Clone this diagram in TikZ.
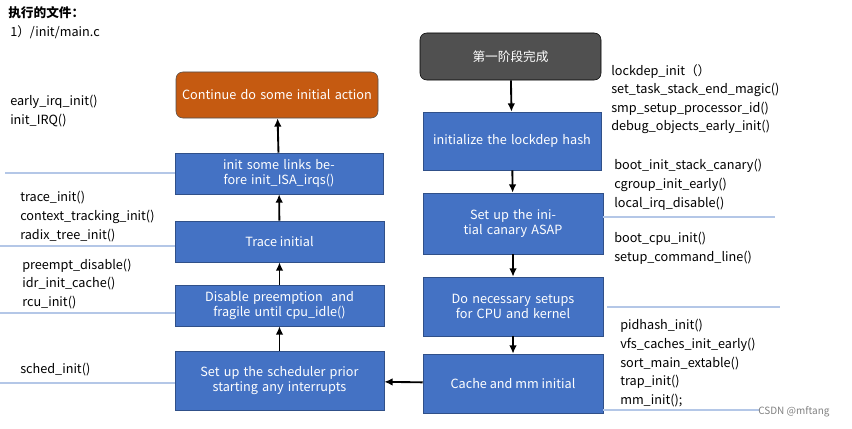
\documentclass[tikz,border=0pt]{standalone}
\usepackage{fontspec}
\setmainfont{Noto Sans CJK SC}
\usetikzlibrary{arrows.meta}
\definecolor{boxblue}{HTML}{4472C4}
\definecolor{boxorange}{HTML}{C55A11}
\definecolor{boxgray}{HTML}{505050}
\definecolor{sepblue}{HTML}{B4C7E7}

\begin{document}
\begin{tikzpicture}[x=0.75pt, y=-0.75pt, font=\fontsize{9.5}{11}\selectfont,
	stage/.style={draw=boxblue!70!black, fill=boxblue, text=white, align=center, inner sep=0pt},
	fn/.style={anchor=west, inner sep=0pt},
	sep/.style={draw=sepblue, line width=0.8pt},
	flow/.style={line width=1.4pt, -{Latex[length=2.2mm,width=2mm]}}]
	\useasboundingbox (0,0) rectangle (852,428);
	\node[fn, font=\fontsize{9.5}{11}\selectfont\bfseries] (hdr) at (8,13) {执行的文件：};
	\node[fn] (file) at (10,32) {1）/init/main.c};
	% right column
	\node[stage, draw=black, fill=boxgray, rounded corners=5pt, minimum width=181*0.75pt, minimum height=47*0.75pt] (done) at (510.5,56.5) {第一阶段完成};
	\node[stage, minimum width=178*0.75pt, minimum height=58*0.75pt, text width=160*0.75pt] (lockdep) at (512,141) {initialize the lockdep hash};
	\node[stage, minimum width=180*0.75pt, minimum height=61*0.75pt, text width=170*0.75pt] (canary) at (513,223.5) {Set up the initial canary ASAP};
	\node[stage, minimum width=180*0.75pt, minimum height=59*0.75pt, text width=170*0.75pt] (cpu) at (513,306.5) {Do necessary setups for CPU and kernel\\[10pt]};
	\node[stage, minimum width=180*0.75pt, minimum height=59*0.75pt] (mm) at (513,383.5) {Cache and mm initial};
	% left column
	\node[stage, minimum width=209*0.75pt, minimum height=59*0.75pt, text width=195*0.75pt] (sched) at (279.5,380.5) {Set up the scheduler prior starting any interrupts};
	\node[stage, minimum width=209*0.75pt, minimum height=41*0.75pt, text width=200*0.75pt] (preempt) at (279.5,305.5) {Disable preemption~ and fragile until cpu\_idle()};
	\node[stage, minimum width=209*0.75pt, minimum height=41*0.75pt] (trace) at (279.5,241.5) {Trace initial};
	\node[stage, minimum width=208*0.75pt, minimum height=41*0.75pt, text width=195*0.75pt] (links) at (279,173.5) {init some links before init\_ISA\_irqs()};
	\node[stage, draw=boxgray, fill=boxorange, rounded corners=5pt, minimum width=202*0.75pt, minimum height=46*0.75pt, text width=190*0.75pt] (cont) at (277,95) {Continue do some initial action};
	\draw[flow] (done) -- (lockdep);
	\draw[flow] (lockdep) -- (canary);
	\draw[flow] (canary) -- (cpu);
	\draw[flow] (cpu) -- (mm);
	\draw[flow] (mm) -- (sched);
	\draw[flow] (sched) -- (preempt);
	\draw[flow] (preempt) -- (trace);
	\draw[flow] (trace) -- (links);
	\draw[flow] (links) -- (cont);
	% function lists
	\foreach \t [count=\i] in {lockdep\_init（）, set\_task\_stack\_end\_magic(), smp\_setup\_processor\_id(), debug\_objects\_early\_init()}
		\node[fn] at (611,53.5+18.3*\i) {\t};
	\foreach \t [count=\i] in {boot\_init\_stack\_canary(), cgroup\_init\_early(), local\_irq\_disable()}
		\node[fn] at (614,147+19*\i) {\t};
	\foreach \t [count=\i] in {boot\_cpu\_init(), setup\_command\_line(), ..., setup\_per\_cpu\_areas}
		\node[fn] at (614,220+19*\i) {\t};
	\foreach \t [count=\i] in {pidhash\_init(), vfs\_caches\_init\_early(), sort\_main\_extable(), trap\_init(), mm\_init();}
		\node[fn] at (620,307+18.8*\i) {\t};
	\foreach \t [count=\i] in {early\_irq\_init(), init\_IRQ(), ..., kmem\_cache\_init\_late}
		\node[fn] at (10,83+18.7*\i) {\t};
	\foreach \t [count=\i] in {trace\_init(), context\_tracking\_init(), radix\_tree\_init()}
		\node[fn] at (20,179+19*\i) {\t};
	\foreach \t [count=\i] in {preempt\_disable(), idr\_init\_cache(), rcu\_init()}
		\node[fn] at (22,247+18.5*\i) {\t};
	\node[fn] (schedinit) at (20,370) {sched\_init()};
	\draw[sep] (603,217) -- (775,217);
	\draw[sep] (607,307) -- (780,307);
	\draw[sep] (603,410) -- (760,410);
	\draw[sep] (5,173) -- (175,173);
	\draw[sep] (0,246) -- (175,246);
	\draw[sep] (0,313) -- (175,313);
	\draw[sep] (0,383) -- (175,383);
	\node[fn, text=gray, font=\fontsize{7.5}{9}\selectfont] (mark) at (758,412) {CSDN @mftang};
\end{tikzpicture}
\end{document}
